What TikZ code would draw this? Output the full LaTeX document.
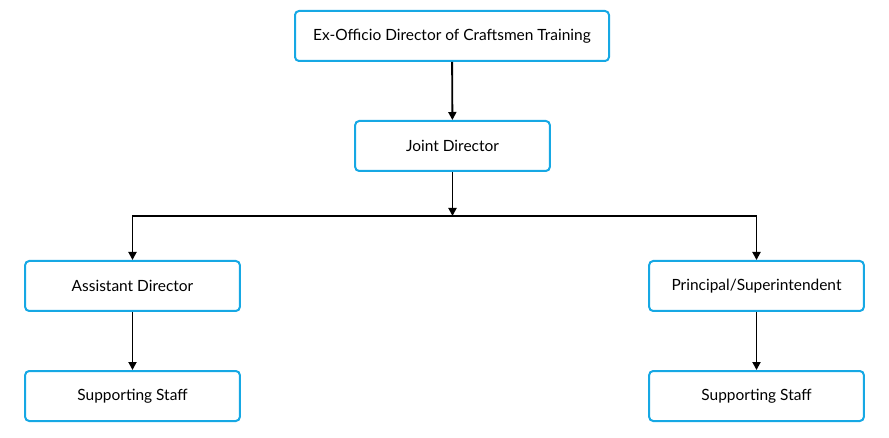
\documentclass[tikz,border=0pt]{standalone}
\usepackage{fontspec}
\setmainfont{Lato}
\usetikzlibrary{arrows.meta}

\definecolor{boxblue}{RGB}{22,168,228}

\begin{document}
\begin{tikzpicture}[x=0.75pt,y=-0.75pt,
    orgbox/.style={draw=boxblue, line width=1.5pt, rounded corners=3pt,
      minimum height=37.5pt, inner sep=0pt, font=\fontsize{11.6}{13}\selectfont},
    link/.style={line width=1.4pt, -{Triangle[length=6pt,width=6pt]}}]
      \useasboundingbox (0,0) rectangle (889,438);
      \node[orgbox, minimum width=235.5pt] (eodct) at (452,36) {Ex-Officio Director of Craftsmen Training};
      \node[orgbox, minimum width=146pt] (jd) at (452.5,146) {Joint Director};
      \node[orgbox, minimum width=161pt] (ad) at (132.5,286) {Assistant Director};
      \node[orgbox, minimum width=161pt] (ps) at (756.5,286) {Principal/Superintendent};
      \node[orgbox, minimum width=161pt] (ssl) at (132.5,396) {Supporting Staff};
      \node[orgbox, minimum width=161pt] (ssr) at (756.5,396) {Supporting Staff};
      \coordinate (split) at (452.5,216);
      \draw[link] (eodct) -- (jd);
      \draw[link] (jd) -- (split);
      \draw[link] (split) -| (ad);
      \draw[link] (split) -| (ps);
      \draw[link] (ad) -- (ssl);
      \draw[link] (ps) -- (ssr);
    \end{tikzpicture}
\end{document}
